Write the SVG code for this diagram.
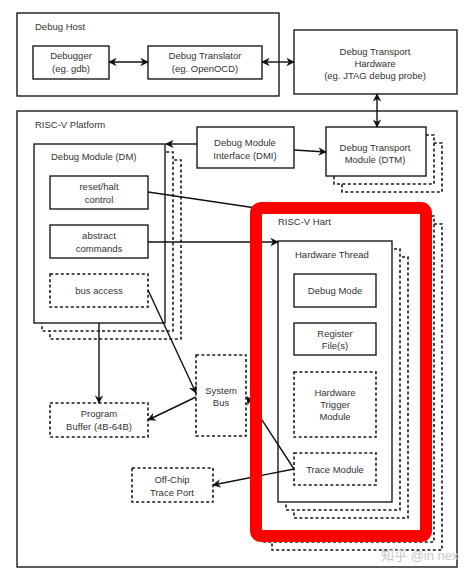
<svg xmlns="http://www.w3.org/2000/svg" width="474" height="576" viewBox="0 0 474 576">
<style>
  text { font-family: "Liberation Sans", Arial, sans-serif; font-size: 9.5px; fill: #333; }
  .c { text-anchor: middle; }
  .box { fill: #fff; stroke: #1a1a1a; stroke-width: 1.4; }
  .dot { fill: #fff; stroke: #1a1a1a; stroke-width: 1.6; stroke-dasharray: 3 2.4; }
  .ln { fill: none; stroke: #111; stroke-width: 1.4; }
  .wm { font-family: "Liberation Sans", "Noto Sans CJK SC", sans-serif; font-size: 13px; fill: #c8c8c8; }
</style>
<defs>
  <marker id="ah" viewBox="0 0 10 10" refX="9" refY="5" markerWidth="8.5" markerHeight="8.5" markerUnits="userSpaceOnUse" orient="auto-start-reverse">
    <path d="M0,0 L10,5 L0,10 L3,5 z" fill="#111"/>
  </marker>
</defs>
<rect width="474" height="576" fill="#fff"/>

<g id="debug-host">
  <rect class="box" x="17" y="13" width="262" height="83"/>
  <text x="35" y="30">Debug Host</text>
</g>
<g id="debugger">
  <rect class="box" x="33" y="46" width="76" height="33"/>
  <text class="c" x="71" y="59">Debugger</text>
  <text class="c" x="71" y="72">(eg. gdb)</text>
</g>
<g id="debug-translator">
  <rect class="box" x="148" y="46" width="114" height="33"/>
  <text class="c" x="205" y="59">Debug Translator</text>
  <text class="c" x="205" y="72">(eg. OpenOCD)</text>
</g>
<g id="debug-transport-hardware">
  <rect class="box" x="294" y="30" width="163" height="64"/>
  <text class="c" x="375" y="55">Debug Transport</text>
  <text class="c" x="375" y="67">Hardware</text>
  <text class="c" x="375" y="79">(eg. JTAG debug probe)</text>
</g>

<g id="riscv-platform">
  <rect class="box" x="17" y="111" width="440" height="456"/>
  <text x="35" y="128">RISC-V Platform</text>
</g>

<g id="dtm">
  <rect class="dot" x="342" y="143" width="100" height="49"/>
  <rect class="dot" x="334" y="135" width="100" height="49"/>
  <rect class="box" x="326" y="127" width="100" height="49"/>
  <text class="c" x="375" y="151">Debug Transport</text>
  <text class="c" x="375" y="163">Module (DTM)</text>
</g>
<g id="dmi">
  <rect class="box" x="197" y="127" width="97" height="41"/>
  <text class="c" x="245" y="146">Debug Module</text>
  <text class="c" x="245" y="159">Interface (DMI)</text>
</g>

<g id="debug-module">
  <rect class="dot" x="50" y="160" width="131" height="179"/>
  <rect class="dot" x="42" y="152" width="131" height="179"/>
  <rect class="box" x="34" y="144" width="131" height="179"/>
  <text x="51" y="160">Debug Module (DM)</text>
</g>
<g id="reset-halt">
  <rect class="box" x="50" y="176" width="98" height="33"/>
  <text class="c" x="99" y="190">reset/halt</text>
  <text class="c" x="99" y="203">control</text>
</g>
<g id="abstract-commands">
  <rect class="box" x="50" y="225" width="98" height="33"/>
  <text class="c" x="99" y="239">abstract</text>
  <text class="c" x="99" y="252">commands</text>
</g>
<g id="bus-access">
  <rect class="dot" x="50" y="274" width="98" height="33"/>
  <text class="c" x="99" y="294">bus access</text>
</g>

<g id="program-buffer">
  <rect class="dot" x="50" y="403" width="98" height="34"/>
  <text class="c" x="99" y="417">Program</text>
  <text class="c" x="99" y="430">Buffer (4B-64B)</text>
</g>
<g id="system-bus">
  <rect class="dot" x="196" y="355" width="50" height="81"/>
  <text class="c" x="221" y="394">System</text>
  <text class="c" x="221" y="406">Bus</text>
</g>
<g id="off-chip-trace-port">
  <rect class="dot" x="132" y="468" width="81" height="34"/>
  <text class="c" x="172" y="483">Off-Chip</text>
  <text class="c" x="172" y="496">Trace Port</text>
</g>

<g id="riscv-hart">
  <rect class="dot" x="272" y="224" width="170" height="326"/>
  <rect class="dot" x="264" y="216" width="170" height="326"/>
  <rect class="box" x="256" y="208" width="170" height="326"/>
  <text x="278" y="225">RISC-V Hart</text>
</g>
<g id="hardware-thread">
  <rect class="dot" x="294" y="257" width="114" height="261"/>
  <rect class="dot" x="286" y="249" width="114" height="261"/>
  <rect class="box" x="278" y="241" width="114" height="261"/>
  <text x="295" y="258">Hardware Thread</text>
</g>
<g id="debug-mode">
  <rect class="box" x="294" y="274" width="82" height="33"/>
  <text class="c" x="335" y="294">Debug Mode</text>
</g>
<g id="register-files">
  <rect class="box" x="294" y="323" width="82" height="32"/>
  <text class="c" x="335" y="337">Register</text>
  <text class="c" x="335" y="349">File(s)</text>
</g>
<g id="hardware-trigger-module">
  <rect class="dot" x="294" y="372" width="82" height="65"/>
  <text class="c" x="335" y="396">Hardware</text>
  <text class="c" x="335" y="408">Trigger</text>
  <text class="c" x="335" y="420">Module</text>
</g>
<g id="trace-module">
  <rect class="dot" x="294" y="453" width="82" height="32"/>
  <text class="c" x="335" y="473">Trace Module</text>
</g>

<g id="connectors">
  <line class="ln" x1="109" y1="62" x2="148" y2="62" marker-start="url(#ah)" marker-end="url(#ah)"/>
  <line class="ln" x1="262" y1="62" x2="294" y2="62" marker-start="url(#ah)" marker-end="url(#ah)"/>
  <line class="ln" x1="377" y1="94" x2="377" y2="127" marker-start="url(#ah)" marker-end="url(#ah)"/>
  <line class="ln" x1="197" y1="144" x2="166" y2="144" marker-end="url(#ah)"/>
  <line class="ln" x1="294" y1="150" x2="326" y2="152" marker-end="url(#ah)"/>
  <line class="ln" x1="148" y1="192" x2="256" y2="208"/>
  <line class="ln" x1="148" y1="242" x2="278" y2="242" marker-end="url(#ah)"/>
  <line class="ln" x1="99" y1="323" x2="99" y2="403" marker-end="url(#ah)"/>
  <line class="ln" x1="148" y1="290" x2="196" y2="393" marker-end="url(#ah)"/>
  <line class="ln" x1="196" y1="397" x2="148" y2="420" marker-end="url(#ah)"/>
  <line class="ln" x1="294" y1="469" x2="247" y2="397" marker-end="url(#ah)"/>
  <line class="ln" x1="294" y1="469" x2="213" y2="485" marker-end="url(#ah)"/>
</g>

<rect id="highlight" x="256" y="208" width="170" height="328" rx="5" fill="none" stroke="#f00" stroke-width="12"/>

<text class="wm" x="381" y="560">知乎 @in nex</text>
</svg>
